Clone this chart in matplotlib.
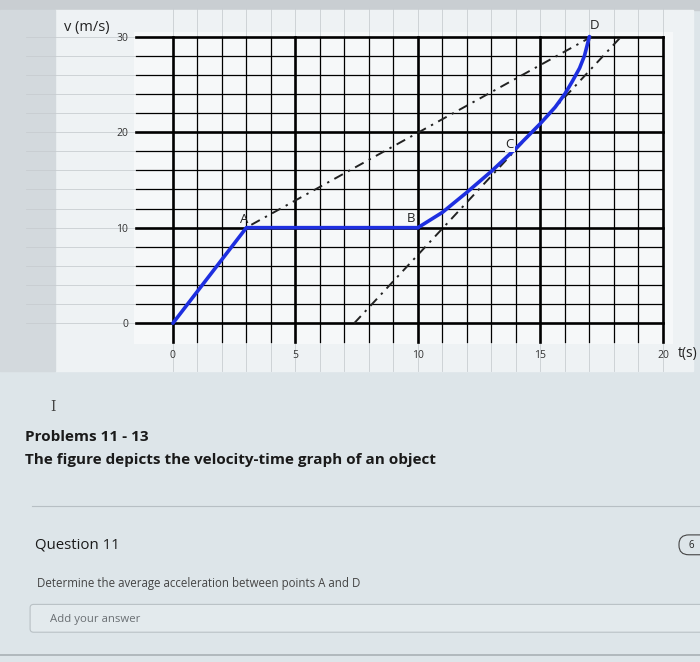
import numpy as np
import matplotlib.pyplot as plt
from matplotlib.patches import Rectangle, FancyBboxPatch

plt.rcParams['font.family'] = ['Open Sans', 'DejaVu Sans']

# velocity-time data
seg_t = [0, 3, 10]
seg_v = [0, 10, 10]
curve_t = [10, 11, 12, 13, 14, 15, 15.6, 16, 16.3, 16.6, 16.8, 17]
curve_v = [10, 11.6, 13.7, 15.9, 18.3, 20.9, 22.6, 24.0, 25.3, 26.7, 28.0, 30]

# dash-dot lines (secant A-D and tangent at C)
secant_t = [3.2, 17.1]
secant_v = [10.3, 30]
tangent_t = [7.4, 18.3]
tangent_v = [0, 30]

x_ticks = [0, 5, 10, 15, 20]
y_ticks = [0, 10, 20, 30]
point_names = ['A', 'B', 'C', 'D']
point_t = [3, 10, 13.9, 17]
point_v = [10, 10, 19.0, 30]

fig = plt.figure(figsize=(7, 6.62), dpi=100)
fig.patch.set_facecolor('#dde5e9')

# screen panels behind the chart
fig.add_artist(Rectangle((0, 0.985), 1, 0.015, transform=fig.transFigure, color='#c9ced2', zorder=0))
fig.add_artist(Rectangle((0.078, 0.44), 0.912, 0.545, transform=fig.transFigure, color='#eef2f4', zorder=0))
fig.add_artist(Rectangle((0, 0.44), 0.078, 0.545, transform=fig.transFigure, color='#d3d9dd', zorder=0))

ax = fig.add_axes([0.191, 0.480, 0.770, 0.472])
ax.set_facecolor('#f6f8f9')
ax.set_xlim(-1.6, 20.4)
ax.set_ylim(-2.2, 30.5)
for s in ax.spines.values():
    s.set_visible(False)

# faint spreadsheet lines around the chart
for y in range(0, 31, 2):
    ax.plot([-6, -1.5], [y, y], color='#c8cdd1', lw=0.6, clip_on=False, zorder=0)
for x in range(0, 21):
    ax.plot([x, x], [30, 33], color='#c8cdd1', lw=0.6, clip_on=False, zorder=0)
    ax.plot([x, x], [-2, -5], color='#c8cdd1', lw=0.6, clip_on=False, zorder=0)

# grid
for y in range(0, 31, 2):
    major = y % 10 == 0
    ax.plot([-1.5, 20], [y, y], color='black', lw=1.9 if major else 0.9, zorder=1)
for x in range(0, 21):
    major = x % 5 == 0
    ax.plot([x, x], [-2, 30], color='black', lw=1.9 if major else 0.9, zorder=1)

ax.plot(secant_t, secant_v, color='#222222', lw=1.4, dashes=(5, 3, 1.2, 3), zorder=2)
ax.plot(tangent_t, tangent_v, color='#222222', lw=1.4, dashes=(5, 3, 1.2, 3), zorder=2)

ax.plot(seg_t, seg_v, color='#1e2fe0', lw=2.6, solid_capstyle='round', zorder=3)
ax.plot(curve_t, curve_v, color='#1e2fe0', lw=2.6, solid_capstyle='round',
        solid_joinstyle='round', zorder=3)

offsets = {'A': (-0.1, 0.9), 'B': (-0.3, 1.0), 'C': (-0.15, -0.3), 'D': (0.2, 1.2)}
for name, t, v in zip(point_names, point_t, point_v):
    dx, dy = offsets[name]
    ax.text(t + dx, v + dy, name, fontsize=9.5, ha='center', va='center', color='#222222', zorder=4,
            bbox=dict(boxstyle='square,pad=0.05', fc='#f6f8f9', ec='none') if name == 'C' else None)

ax.set_xticks(x_ticks)
ax.set_xticklabels([str(x) for x in x_ticks], fontsize=7.5)
ax.set_yticks(y_ticks)
ax.set_yticklabels([str(y) for y in y_ticks], fontsize=7.5)
ax.tick_params(length=0, pad=4, colors='#333333')

ax.text(-3.5, 30.9, 'v (m/s)', fontsize=10.5, ha='center', va='center', color='#222222', clip_on=False)
ax.text(21.0, -3.2, 't(s)', fontsize=10, ha='center', va='center', color='#222222', clip_on=False)

# page text below the chart
fig.text(0.072, 0.385, 'I', fontsize=10, family='DejaVu Serif', color='#444444', va='center')
fig.text(0.036, 0.340, 'Problems 11 - 13', fontsize=11, weight='bold', color='#1a1a1a', va='center')
fig.text(0.036, 0.305, 'The figure depicts the velocity-time graph of an object',
         fontsize=11, weight='bold', color='#1a1a1a', va='center')
fig.add_artist(plt.Line2D([0.045, 1.0], [0.235, 0.235], color='#b7bfc4', lw=0.8))
fig.text(0.050, 0.176, 'Question 11', fontsize=10.8, color='#1a1a1a', va='center')
fig.text(0.053, 0.119, 'Determine the average acceleration between points A and D',
         fontsize=8.3, color='#444444', va='center')
fig.add_artist(FancyBboxPatch((0.043, 0.045), 1.0, 0.042, transform=fig.transFigure,
                              boxstyle='round,pad=0,rounding_size=0.005',
                              fc='#e3eaed', ec='#b9c1c5', lw=0.8))
fig.text(0.072, 0.064, 'Add your answer', fontsize=8.2, color='#6a6f73', va='center')
fig.add_artist(FancyBboxPatch((0.97, 0.162), 0.05, 0.03, transform=fig.transFigure,
                              boxstyle='round,pad=0,rounding_size=0.014',
                              fc='none', ec='#444444', lw=0.8))
fig.text(0.988, 0.176, '6', fontsize=7, color='#222222', va='center', ha='center')
fig.add_artist(plt.Line2D([0.0, 1.0], [0.010, 0.010], color='#a9b1b5', lw=1.2))

fig.savefig('out.png', dpi=100, facecolor=fig.get_facecolor())
